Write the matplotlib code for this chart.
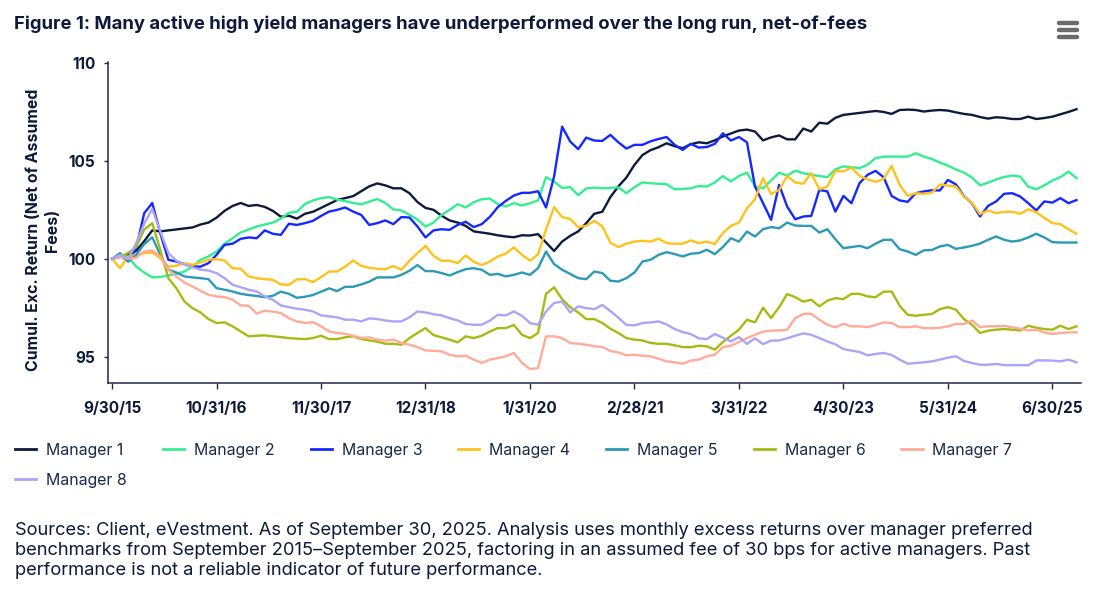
import numpy as np
import pandas as pd
import matplotlib
matplotlib.use("Agg")
import matplotlib.pyplot as plt
from matplotlib.lines import Line2D

plt.rcParams['font.family'] = ['Inter', 'DejaVu Sans']

# monthly periods, Sep 2015 - Sep 2025
months = pd.period_range('2015-09', periods=121, freq='M')
date_labels = [f"{p.month}/{p.days_in_month}/{p.year % 100}" for p in months]

manager_1 = [
    100.0, 100.1, 100.2, 100.4, 100.9, 101.45, 101.4, 101.45, 101.5, 101.55,
    101.6, 101.75, 101.85, 102.1, 102.45, 102.7, 102.85, 102.7, 102.75, 102.65,
    102.45, 102.15, 102.2, 102.05, 102.3, 102.4, 102.6, 102.8, 103.0, 103.1,
    103.2, 103.45, 103.7, 103.85, 103.75, 103.6, 103.6, 103.35, 102.9, 102.6,
    102.5, 102.2, 101.96, 101.85, 101.68, 101.4, 101.34, 101.28, 101.2, 101.14,
    101.1, 101.2, 101.19, 101.26, 100.83, 100.4, 100.88, 101.17, 101.4, 101.82,
    102.3, 102.4, 103.15, 103.7, 104.15, 104.8, 105.3, 105.55, 105.7, 105.9,
    105.75, 105.65, 105.85, 105.95, 105.9, 106.05, 106.25, 106.4, 106.55, 106.6,
    106.5, 106.05, 106.2, 106.3, 106.1, 106.1, 106.65, 106.5, 106.95, 106.9,
    107.2, 107.35, 107.4, 107.45, 107.5, 107.55, 107.5, 107.4, 107.6, 107.62,
    107.6, 107.52, 107.57, 107.6, 107.57, 107.48, 107.4, 107.35, 107.24, 107.16,
    107.23, 107.2, 107.14, 107.14, 107.26, 107.14, 107.19, 107.26, 107.38, 107.5,
    107.64]

manager_2 = [
    100.0, 100.2, 100.1, 99.6, 99.3, 99.05, 99.07, 99.15, 99.23, 99.35,
    99.6, 99.95, 100.12, 100.37, 100.77, 101.05, 101.34, 101.5, 101.65, 101.75,
    101.85, 102.05, 102.35, 102.4, 102.8, 102.98, 103.1, 103.15, 103.02, 102.95,
    102.85, 102.78, 102.92, 103.05, 102.85, 102.52, 102.47, 102.25, 102.0, 101.65,
    101.85, 102.24, 102.5, 102.79, 102.62, 102.89, 103.04, 103.08, 102.79, 102.67,
    102.84, 102.72, 102.84, 102.98, 104.17, 103.95, 103.62, 103.66, 103.25, 103.59,
    103.64, 103.6, 103.62, 103.65, 103.35, 103.66, 103.9, 103.86, 103.83, 103.81,
    103.55, 103.57, 103.6, 103.72, 103.69, 103.9, 104.23, 103.95, 104.23, 104.4,
    103.7, 103.6, 104.0, 104.4, 104.25, 104.5, 104.37, 104.29, 104.23, 104.17,
    104.57, 104.72, 104.68, 104.63, 104.8, 105.14, 105.22, 105.22, 105.22, 105.22,
    105.39, 105.22, 105.1, 104.91, 104.76, 104.56, 104.4, 104.15, 103.75, 103.89,
    104.05, 104.18, 104.25, 104.2, 103.68, 103.55, 103.75, 104.0, 104.17, 104.45,
    104.12]

manager_3 = [
    100.0, 100.15, 99.9, 100.55, 102.33, 102.85, 101.3, 99.95, 99.86, 99.73,
    99.6, 99.6, 99.78, 100.2, 100.71, 100.77, 101.02, 101.09, 101.05, 101.45,
    101.28, 101.22, 101.79, 101.73, 101.82, 101.94, 102.19, 102.41, 102.5, 102.62,
    102.41, 102.24, 101.73, 101.82, 101.96, 101.77, 102.13, 102.11, 101.65, 101.09,
    101.45, 101.51, 101.48, 101.73, 101.89, 101.62, 101.77, 102.14, 102.64, 102.96,
    103.23, 103.37, 103.37, 103.45, 102.62, 104.2, 106.75, 105.99, 105.6, 106.19,
    106.04, 106.02, 106.33, 105.95, 105.63, 105.82, 105.82, 106.0, 106.12, 106.22,
    105.82, 105.56, 105.87, 105.68, 105.71, 105.87, 106.41, 106.04, 106.22, 105.95,
    103.69, 102.84, 101.99, 103.78, 102.67, 102.02, 102.16, 102.19, 103.52, 103.44,
    102.41, 103.21, 102.84, 103.86, 104.29, 104.49, 104.17, 103.21, 102.98, 102.91,
    103.35, 103.44, 103.5, 103.49, 104.03, 103.8, 103.2, 102.84, 102.16, 102.7,
    102.93, 103.32, 103.35, 103.18, 102.84, 102.47, 102.93, 102.87, 103.1, 102.84,
    103.0]

manager_4 = [
    100.0, 99.52, 100.12, 100.2, 100.29, 100.32, 100.03, 99.6, 99.64, 99.78,
    99.69, 99.81, 99.95, 99.98, 99.91, 99.52, 99.49, 99.1, 99.01, 98.96,
    98.93, 98.69, 98.67, 98.95, 98.96, 98.81, 99.06, 99.35, 99.35, 99.6,
    99.91, 99.64, 99.54, 99.49, 99.47, 99.63, 99.44, 99.9, 100.29, 100.66,
    100.15, 99.9, 99.9, 99.78, 100.17, 99.85, 99.68, 99.86, 100.12, 100.27,
    100.58, 100.2, 99.91, 100.22, 101.51, 102.64, 102.13, 102.04, 101.62, 101.68,
    101.94, 101.66, 100.83, 100.6, 100.77, 100.88, 100.92, 100.88, 101.02, 100.8,
    100.77, 100.77, 100.94, 100.8, 100.88, 100.75, 101.31, 101.68, 101.85, 102.58,
    103.04, 104.12, 103.3, 103.52, 104.23, 103.9, 103.83, 104.37, 103.55, 103.69,
    104.49, 104.46, 104.66, 104.23, 104.06, 103.93, 104.08, 104.74, 103.78, 103.21,
    103.35, 103.32, 103.37, 103.79, 103.74, 103.69, 103.18, 102.86, 102.28, 102.47,
    102.33, 102.4, 102.4, 102.3, 102.53, 102.38, 102.09, 101.82, 101.77, 101.51,
    101.28]

manager_5 = [
    100.0, 100.29, 99.85, 100.2, 100.75, 101.1, 100.2, 99.44, 99.3, 99.1,
    99.05, 99.01, 98.96, 98.5, 98.42, 98.33, 98.21, 98.15, 98.1, 98.04,
    98.11, 98.32, 98.21, 98.01, 98.06, 98.15, 98.32, 98.49, 98.35, 98.57,
    98.57, 98.69, 98.83, 99.05, 99.05, 99.05, 99.18, 99.39, 99.68, 99.37,
    99.37, 99.27, 99.15, 99.32, 99.47, 99.52, 99.44, 99.18, 99.23, 99.1,
    99.18, 99.3, 99.18, 99.52, 100.37, 99.73, 99.44, 99.23, 99.01, 98.96,
    99.35, 99.27, 98.88, 98.84, 99.01, 99.3, 99.86, 99.95, 100.2, 100.34,
    100.24, 100.12, 100.26, 100.29, 100.46, 100.24, 100.6, 101.05, 100.88, 101.39,
    101.14, 101.51, 101.62, 101.56, 101.85, 101.7, 101.68, 101.68, 101.34, 101.51,
    101.0, 100.54, 100.6, 100.66, 100.54, 100.77, 100.97, 100.97, 100.49, 100.37,
    100.2, 100.43, 100.45, 100.63, 100.71, 100.51, 100.58, 100.66, 100.78, 100.97,
    101.14, 100.97, 100.88, 100.94, 101.09, 101.28, 101.09, 100.85, 100.83, 100.83,
    100.83]

manager_6 = [
    100.0, 100.1, 100.3, 100.6, 101.5, 101.82, 100.46, 99.01, 98.5, 97.82,
    97.48, 97.26, 96.92, 96.72, 96.75, 96.55, 96.29, 96.04, 96.07, 96.09,
    96.04, 96.0, 95.95, 95.92, 95.9, 95.95, 96.07, 95.9, 95.9, 95.99,
    96.04, 95.9, 95.83, 95.77, 95.66, 95.66, 95.61, 95.95, 96.21, 96.46,
    96.1, 95.99, 95.87, 95.73, 96.04, 95.95, 96.07, 96.28, 96.46, 96.46,
    96.62, 96.12, 95.95, 96.21, 98.21, 98.54, 97.94, 97.53, 97.26, 96.92,
    96.92, 96.72, 96.43, 96.21, 95.95, 95.87, 95.83, 95.7, 95.66, 95.66,
    95.58, 95.49, 95.48, 95.56, 95.53, 95.36, 95.75, 96.07, 96.38, 96.89,
    96.75, 97.5, 96.97, 97.53, 98.2, 98.04, 97.81, 97.91, 97.57, 97.86,
    97.99, 97.94, 98.21, 98.21, 98.08, 98.04, 98.32, 98.33, 97.6, 97.14,
    97.09, 97.14, 97.18, 97.43, 97.53, 97.4, 96.92, 96.63, 96.21, 96.33,
    96.38, 96.41, 96.38, 96.34, 96.58, 96.48, 96.41, 96.38, 96.58, 96.41,
    96.55]

manager_7 = [
    100.0, 100.1, 100.0, 100.05, 100.37, 100.43, 100.12, 99.44, 99.1, 98.79,
    98.59, 98.37, 98.16, 98.08, 98.04, 97.91, 97.62, 97.6, 97.2, 97.35,
    97.3, 97.23, 96.97, 96.8, 96.72, 96.77, 96.55, 96.29, 96.21, 96.17,
    96.07, 95.95, 95.99, 95.87, 95.82, 95.87, 95.7, 95.61, 95.49, 95.32,
    95.3, 95.27, 95.1, 95.02, 95.05, 94.85, 94.68, 94.85, 94.93, 95.02,
    95.19, 94.68, 94.37, 94.42, 96.04, 96.04, 95.95, 95.7, 95.66, 95.61,
    95.53, 95.5, 95.29, 95.22, 95.07, 95.1, 95.05, 95.02, 94.9, 94.76,
    94.71, 94.64, 94.8, 94.85, 95.02, 95.1, 95.49, 95.56, 95.75, 95.95,
    96.12, 96.28, 96.33, 96.34, 96.38, 96.97, 97.18, 97.19, 96.89, 96.63,
    96.5, 96.68, 96.55, 96.55, 96.51, 96.62, 96.75, 96.72, 96.51, 96.51,
    96.55, 96.46, 96.45, 96.48, 96.55, 96.67, 96.67, 96.85, 96.51, 96.55,
    96.55, 96.58, 96.5, 96.43, 96.34, 96.38, 96.24, 96.16, 96.21, 96.24,
    96.24]

manager_8 = [
    100.0, 100.2, 100.0, 100.8, 101.8, 102.55, 101.4, 100.3, 99.9, 99.7,
    99.57, 99.44, 99.4, 99.27, 99.01, 98.67, 98.55, 98.42, 98.33, 98.08,
    97.91, 97.62, 97.53, 97.45, 97.4, 97.31, 97.11, 97.06, 97.01, 96.89,
    96.89, 96.8, 96.96, 96.92, 96.85, 96.8, 96.8, 97.01, 97.31, 97.26,
    97.17, 97.11, 96.97, 96.85, 96.67, 96.63, 96.63, 96.84, 97.14, 97.11,
    97.31, 97.09, 96.72, 96.63, 97.31, 97.74, 97.82, 97.26, 97.57, 97.48,
    97.43, 97.64, 97.33, 96.99, 96.62, 96.6, 96.72, 96.75, 96.8, 96.65,
    96.41, 96.26, 96.16, 95.94, 95.9, 96.16, 95.97, 95.78, 96.0, 95.65,
    95.94, 95.64, 95.82, 95.83, 95.94, 96.07, 96.19, 96.12, 95.95, 95.78,
    95.63, 95.39, 95.31, 95.24, 95.07, 95.14, 95.19, 95.09, 94.85, 94.64,
    94.68, 94.71, 94.76, 94.85, 94.95, 95.02, 94.78, 94.68, 94.59, 94.59,
    94.63, 94.57, 94.57, 94.57, 94.56, 94.81, 94.81, 94.8, 94.76, 94.85,
    94.71]

series = [manager_1, manager_2, manager_3, manager_4,
          manager_5, manager_6, manager_7, manager_8]
names = [f"Manager {i}" for i in range(1, 9)]
colors = ['#0c1a3d', '#33ef92', '#1428ff', '#ffc21a',
          '#2b9ab6', '#a6bb10', '#ffab97', '#aaa5f7']

ink = '#0d1a3a'

fig = plt.figure(figsize=(11, 5.93), dpi=100)
ax = fig.add_axes([0.098, 0.3536, 0.885, 0.5418])

x = np.arange(len(months))
for vals, name, c in zip(series, names, colors):
    ax.plot(x, vals, color=c, lw=1.7, label=name, solid_joinstyle='round')

ax.set_xlim(-0.53, 120.6)
ax.set_ylim(93.64, 110.05)

tick_idx = list(range(0, len(months), 13))
ax.set_xticks(tick_idx)
ax.set_xticklabels([date_labels[i] for i in tick_idx])
ax.set_yticks([95, 100, 105, 110])

for side in ['top', 'right']:
    ax.spines[side].set_visible(False)
for side in ['left', 'bottom']:
    ax.spines[side].set_color('#1e2a4a')
    ax.spines[side].set_linewidth(1.1)

ax.tick_params(axis='x', colors='#1e2a4a', length=4, width=1, pad=9,
               labelsize=11, labelcolor=ink)
ax.tick_params(axis='y', colors='#1e2a4a', length=3, width=1, pad=6,
               labelsize=11, labelcolor=ink)
for lab in ax.get_xticklabels() + ax.get_yticklabels():
    lab.set_fontweight('bold')

ax.set_ylabel("Cumul. Exc. Return (Net of Assumed\nFees)", fontsize=11.45,
              fontweight='bold', color=ink, linespacing=1.3)
ax.yaxis.set_label_coords(-0.049, 0.477)

fig.text(0.0128, 1 - 24 / 593,
         "Figure 1: Many active high yield managers have underperformed over the long run, net-of-fees",
         fontsize=13.3, fontweight='bold', color=ink, va='center', ha='left')

# menu icon
for yy in [23, 30, 37]:
    fig.add_artist(Line2D([1059 / 1100, 1077 / 1100], [1 - yy / 593, 1 - yy / 593],
                          transform=fig.transFigure, color='#6b6b6b', lw=3.2,
                          solid_capstyle='round'))

# legend fills column-wise, so put Manager 8 second to land under Manager 1
handles, labels = ax.get_legend_handles_labels()
order = [0, 7, 1, 2, 3, 4, 5, 6]
leg = fig.legend([handles[i] for i in order], [labels[i] for i in order],
                 loc='upper left', bbox_to_anchor=(0.001, 0.277),
                 ncol=7, frameon=False, fontsize=11.4, handlelength=1.33,
                 handletextpad=0.63, columnspacing=2.27, labelspacing=0.95)
for t in leg.get_texts():
    t.set_color('#1b2a4a')
for h in leg.legend_handles:
    h.set_linewidth(2)

fig.text(0.0136, 1 - 522 / 593,
         "Sources: Client, eVestment. As of September 30, 2025. Analysis uses monthly excess returns over manager preferred\n"
         "benchmarks from September 2015\u2013September 2025, factoring in an assumed fee of 30 bps for active managers. Past\n"
         "performance is not a reliable indicator of future performance.",
         fontsize=13.2, color=ink, va='top', ha='left', linespacing=1.23)

fig.savefig('out.png', dpi=100)
